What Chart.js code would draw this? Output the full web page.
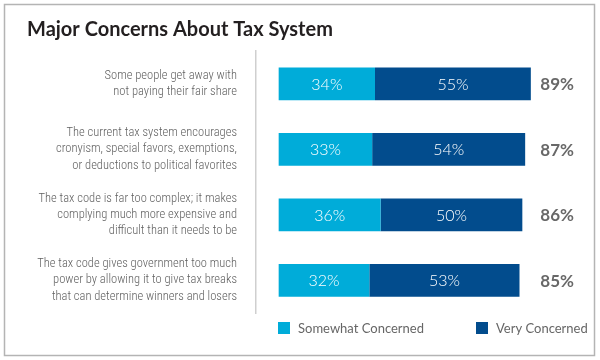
<!DOCTYPE html>
<html>
<head>
<meta charset="utf-8">
<script src="https://cdn.jsdelivr.net/npm/chart.js@4.4.1/dist/chart.umd.min.js"></script>
<style>
  html, body { margin: 0; padding: 0; background: #fff; }
  #wrap { position: relative; width: 600px; height: 360px; }
</style>
</head>
<body>
<div id="wrap"><canvas id="chart" width="600" height="360"></canvas></div>
<script>
  const title = "Major Concerns About Tax System";
  const categories = [
    ["Some people get away with", "not paying their fair share"],
    ["The current tax system encourages", "cronyism, special favors, exemptions,", "or deductions to political favorites"],
    ["The tax code is far too complex; it makes", "complying much more expensive and", "difficult than it needs to be"],
    ["The tax code gives government too much", "power by allowing it to give tax breaks", "that can determine winners and losers"]
  ];
  const seriesNames = ["Somewhat Concerned", "Very Concerned"];
  const somewhat = [34, 33, 36, 32];
  const very = [55, 54, 50, 53];

  const lightBlue = "#00acd9";
  const darkBlue = "#024c8d";
  const narrow = "'Liberation Sans Narrow', 'Roboto Condensed', Roboto, sans-serif";
  const sans = "Lato, 'Open Sans', sans-serif";

  // frame + white background
  const framePlugin = {
    id: "frame",
    beforeDraw(chart) {
      const ctx = chart.ctx;
      ctx.save();
      ctx.fillStyle = "#fff";
      ctx.fillRect(0, 0, chart.width, chart.height);
      ctx.strokeStyle = "#b4b4b4";
      ctx.lineWidth = 1.5;
      ctx.strokeRect(4.5, 4.5, 590, 351);
      ctx.restore();
    }
  };

  // percent labels inside segments + totals at the right
  const valueLabels = {
    id: "valueLabels",
    afterDatasetsDraw(chart) {
      const ctx = chart.ctx;
      ctx.save();
      ctx.textBaseline = "middle";
      ctx.textAlign = "center";
      ctx.fillStyle = "#fff";
      ctx.font = "300 16px " + sans;
      chart.data.datasets.forEach((ds, i) => {
        chart.getDatasetMeta(i).data.forEach((bar, j) => {
          ctx.fillText(ds.data[j] + "%", (bar.x + bar.base) / 2, bar.y + 1);
        });
      });

      const meta = chart.getDatasetMeta(0);
      ctx.textAlign = "right";
      ctx.fillStyle = "#686868";
      ctx.font = "bold 17px " + sans;
      meta.data.forEach((bar, j) => {
        const total = somewhat[j] + very[j];
        ctx.fillText(total + "%", chart.chartArea.right + 12, bar.y + 1);
      });
      ctx.restore();
    }
  };

  // legend row under the bars
  const legendRow = {
    id: "legendRow",
    afterDraw(chart) {
      const ctx = chart.ctx;
      const y = chart.chartArea.bottom + 15;
      const xs = [chart.chartArea.left + 22, chart.chartArea.left + 220];
      ctx.save();
      ctx.textBaseline = "middle";
      ctx.textAlign = "left";
      ctx.font = "13px " + sans;
      chart.data.datasets.forEach((ds, i) => {
        ctx.fillStyle = ds.backgroundColor;
        ctx.fillRect(xs[i], y - 6, 12, 12);
        ctx.fillStyle = "#666";
        ctx.fillText(ds.label, xs[i] + 20, y + 1);
      });
      ctx.restore();
    }
  };

  new Chart(document.getElementById("chart"), {
    type: "bar",
    data: {
      labels: categories,
      datasets: [
        { label: seriesNames[0], data: somewhat, backgroundColor: lightBlue },
        { label: seriesNames[1], data: very, backgroundColor: darkBlue }
      ]
    },
    options: {
      indexAxis: "y",
      responsive: false,
      animation: false,
      barPercentage: 0.5,
      categoryPercentage: 1,
      layout: { padding: { top: 18, left: 27, right: 38, bottom: 47 } },
      plugins: {
        legend: { display: false },
        tooltip: { enabled: false },
        title: {
          display: true,
          text: title,
          align: "start",
          color: "#231f20",
          font: { family: sans, size: 20, weight: "bold" },
          padding: { top: 0, bottom: 9 }
        }
      },
      scales: {
        x: { stacked: true, display: false, min: -8, max: 100 },
        y: {
          stacked: true,
          afterFit(scale) { scale.width = 229; },
          grid: { display: false, drawTicks: false },
          border: { display: true, color: "#cfcfcf", width: 1.5, dash: [1.5, 2.5] },
          ticks: {
            color: "#606060",
            padding: 19,
            font: { family: narrow, size: 12.5, weight: 300, lineHeight: 1.3 }
          }
        }
      }
    },
    plugins: [framePlugin, valueLabels, legendRow]
  });
</script>
</body>
</html>
